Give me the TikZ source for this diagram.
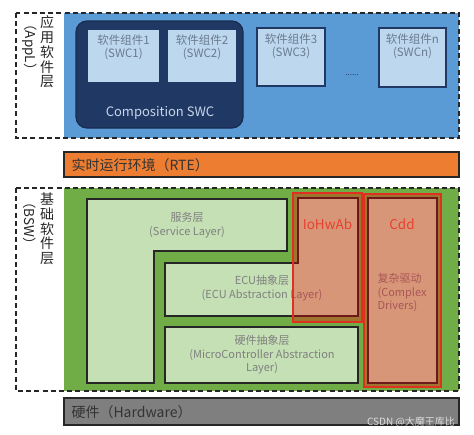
\documentclass[tikz,border=0pt]{standalone}
\usepackage{fontspec}
\setmainfont{Noto Sans CJK SC}
\definecolor{appblue}{HTML}{5B9BD5}
\definecolor{navy}{HTML}{1F3864}
\definecolor{swcblue}{HTML}{BDD7EE}
\definecolor{swctext}{HTML}{6A7B8E}
\definecolor{comptext}{HTML}{C9D5E8}
\definecolor{rteorange}{HTML}{ED7D31}
\definecolor{bswgreen}{HTML}{70AD47}
\definecolor{lightgreen}{HTML}{C5E0B4}
\definecolor{layertext}{HTML}{808080}
\definecolor{hwgrey}{HTML}{7F7F7F}
\definecolor{redline}{HTML}{E03020}
\definecolor{redlabel}{HTML}{E8402E}
\tikzset{
  dashbox/.style={draw=black!85, line width=1.6pt, dash pattern=on 5pt off 3.2pt},
  swcbox/.style={fill=swcblue, draw=navy, line width=1.6pt},
  swclabel/.style={text=swctext, align=center, font=\fontsize{11.5}{13.5}\selectfont, anchor=north},
  lgbox/.style={fill=lightgreen, draw=black!85, line width=1.6pt},
  layerlabel/.style={text=layertext, align=center, font=\fontsize{11}{13.5}\selectfont},
  redover/.style={fill=red, fill opacity=0.33, draw=redline, draw opacity=1, line width=1.6pt},
  redtag/.style={text=redlabel, font=\fontsize{13.5}{15}\selectfont},
  bartext/.style={text=black!80, font=\fontsize{14}{16}\selectfont, anchor=west},
  vlabel/.style={text=black!85, align=center, font=\fontsize{14}{14.7}\selectfont},
  vlatin/.style={text=black!85, rotate=-90, font=\fontsize{13.5}{14}\selectfont}
}
\begin{document}
\begin{tikzpicture}[x=1pt, y=-1pt]
\useasboundingbox (0,0) rectangle (474,434);
% ---------- Application layer ----------
\fill[appblue] (64,13) rectangle (459,138);
\draw[dashbox] (16,13) rectangle (459,138);
\node[vlabel] (appcn) at (47,52) {应\\用\\软\\件\\层};
\node[vlatin] (appen) at (30,47) {（AppL）};
\draw[fill=navy, draw=navy!80!black, line width=1.2pt, rounded corners=11pt] (76,21) rectangle (243,128);
\node[text=comptext, font=\fontsize{13}{15}\selectfont] (comp) at (160,113) {Composition SWC};
\draw[swcbox] (87,29) rectangle (160,83);
\node[swclabel] (swc1) at (123.5,31) {软件组件1\\(SWC1)};
\draw[swcbox] (167,29) rectangle (237,83);
\node[swclabel] (swc2) at (202,31) {软件组件2\\(SWC2)};
\draw[swcbox] (257,28) rectangle (325,86);
\node[swclabel] (swc3) at (291,30) {软件组件3\\(SWC3)};
\draw[swcbox] (379,28) rectangle (446,87);
\node[swclabel] (swcn) at (412.5,30) {软件组件n\\(SWCn)};
\node[text=navy, font=\fontsize{8}{9}\selectfont] (dots) at (352,75) {......};
% ---------- RTE ----------
\draw[fill=rteorange, draw=black!85, line width=1.3pt] (64,152) rectangle (459,177);
\node[bartext] (rte) at (68,165) {实时运行环境（RTE）};
% ---------- BSW ----------
\fill[bswgreen] (64,188) rectangle (459,391);
\draw[dashbox] (16,188) rectangle (459,391);
\node[vlabel] (bswcn) at (47,229) {基\\础\\软\\件\\层};
\node[vlatin] (bswen) at (30,223) {（BSW）};
% service layer (L shape)
\draw[lgbox] (87,199) -- (287,199) -- (287,251) -- (154,251) -- (154,383) -- (87,383) -- cycle;
\node[layerlabel] (svc) at (187,225) {服务层\\(Service Layer)};
% ECU abstraction + IoHwAb underlying shape
\draw[lgbox] (165,263) -- (298,263) -- (298,198) -- (358,198) -- (358,316) -- (165,316) -- cycle;
\node[layerlabel] (ecu) at (262,288) {ECU抽象层\\(ECU Abstraction Layer)};
% MCAL
\draw[lgbox] (165,327) rectangle (358,383);
\node[layerlabel] (mcal) at (262,355) {硬件抽象层\\(MicroController Abstraction\\Layer)};
% Cdd underlying
\draw[lgbox] (368,198) rectangle (437,383);
\node[layerlabel, align=left, anchor=north west] (cddtxt) at (374,270) {复杂驱动\\(Complex\\Drivers)};
% red overlays
\draw[redover] (293,193) rectangle (362,322);
\draw[redover] (364,194) rectangle (441,387);
\node[redtag] (iohwab) at (327.5,224) {IoHwAb};
\node[redtag] (cdd) at (402,224) {Cdd};
% ---------- Hardware ----------
\draw[fill=hwgrey, draw=black!85, line width=1.3pt] (64,398) rectangle (459,425);
\node[bartext] (hw) at (68,412) {硬件（Hardware）};
% watermark
\node[text=white, opacity=0.75, font=\fontsize{10}{11}\selectfont] (wm) at (411,422) {CSDN @大魔王库比};
\end{tikzpicture}
\end{document}
